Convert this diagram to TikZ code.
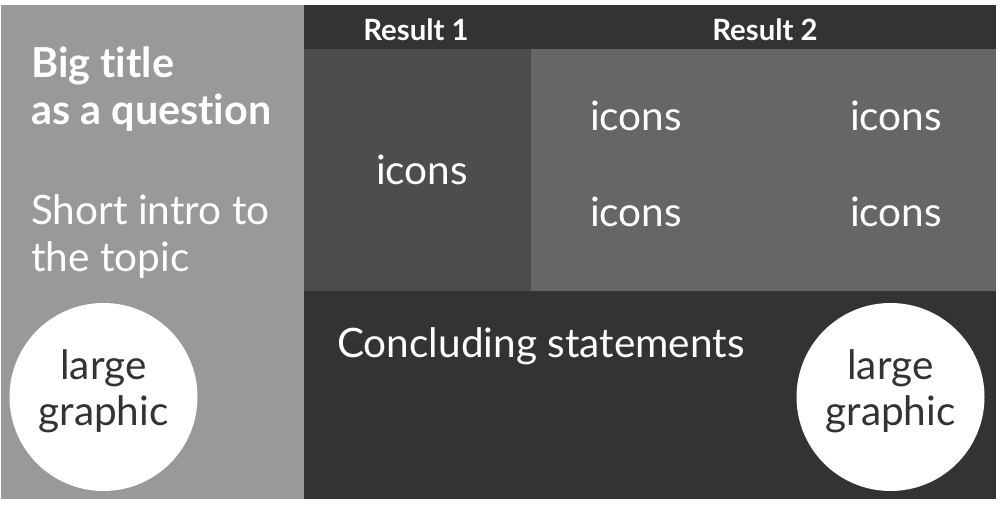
\documentclass[tikz,border=0pt]{standalone}
\usepackage{fontspec}
\setmainfont{Lato}[Ligatures=NoCommon]
\definecolor{sidegray}{HTML}{999999}
\definecolor{darkgray}{HTML}{333333}
\definecolor{midgray}{HTML}{4D4D4D}
\definecolor{lightgray}{HTML}{666666}
\tikzset{
    label/.style = {text = white, inner sep = 0, font = \fontsize{30.4}{30.4}\selectfont},
    leftlabel/.style = {label, anchor = base west},
    titlelabel/.style = {leftlabel, font = \fontsize{31}{31}\selectfont\bfseries},
    head/.style = {text = white, inner sep = 0, font = \fontsize{22}{22}\selectfont\bfseries},
    blob/.style = {circle, fill = white, minimum size = 141pt, inner sep = 0},
    blobtext/.style = {text = darkgray, inner sep = 0, font = \fontsize{30.4}{30.4}\selectfont}
}
\begin{document}
\begin{tikzpicture}[x = 0.75pt, y = -0.75pt]
    \useasboundingbox (0, 0) rectangle (1000, 505);
    \fill[sidegray] (1, 5) rectangle (304, 499);
    \fill[darkgray] (304, 5) rectangle (996, 499);
    \fill[midgray] (304, 49) rectangle (531, 291);
    \fill[lightgray] (531, 49) rectangle (996, 291);
    \node[head] (resultone) at (416, 30) {Result 1};
    \node[head] (resulttwo) at (765, 30) {Result 2};
    \node[titlelabel] (title) at (31, 77.5) {Big title};
    \node[titlelabel] (question) at (31, 124.5) {as a question};
    \node[leftlabel] (intro) at (31, 225) {Short intro to};
    \node[leftlabel] (topic) at (31, 272) {the topic};
    \node[label] (iconsa) at (422, 169.5) {icons};
    \node[label] (iconsb) at (636, 115.5) {icons};
    \node[label] (iconsc) at (896, 115.5) {icons};
    \node[label] (iconsd) at (636, 211.5) {icons};
    \node[label] (iconse) at (896, 211.5) {icons};
    \node[leftlabel] (concluding) at (337, 357.5) {Concluding statements};
    \node[blob] (graphicleft) at (103.5, 397) {};
    \node[blob] (graphicright) at (890.5, 397) {};
    % text in the circles
    \node[blobtext, anchor = base] (largeleft) at (103.5, 380) {large};
    \node[blobtext, anchor = base] (wordleft) at (103.5, 426) {graphic};
    \node[blobtext, anchor = base] (largeright) at (890.5, 380) {large};
    \node[blobtext, anchor = base] (wordright) at (890.5, 426) {graphic};
\end{tikzpicture}
\end{document}
